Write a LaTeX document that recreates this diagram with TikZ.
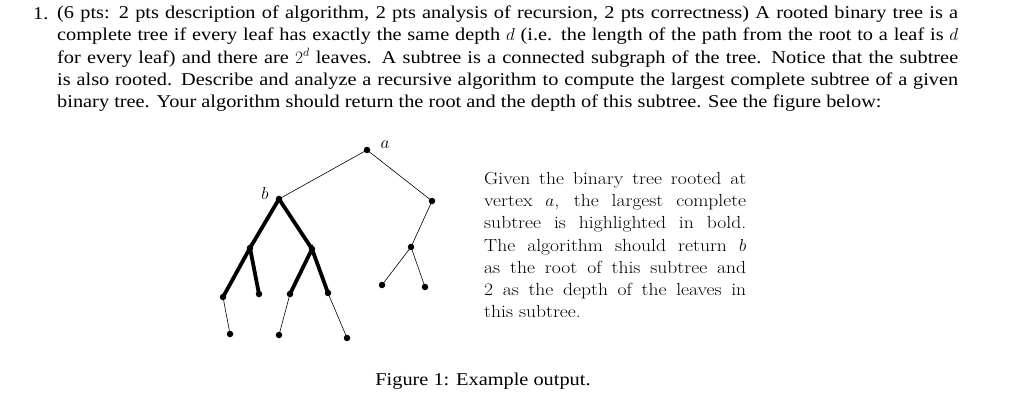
\documentclass[tikz,border=0pt]{standalone}
\usepackage{fontspec}
\setmainfont[FakeStretch=1.13]{Liberation Serif}
\newfontfamily\lmfont[FakeStretch=1.12]{Latin Modern Roman}
\begin{document}
\begin{tikzpicture}[x=1pt,y=-1pt,
  dot/.style={circle,fill=black,inner sep=0pt,minimum size=6.5pt},
  thin/.style={line width=0.6pt},
  bold/.style={line width=3.8pt}]
\useasboundingbox (0,0) rectangle (1024,406);
\node[anchor=base west,inner sep=0pt,font=\fontsize{18}{22.4}\selectfont] (num) at (33,20) {1.};
\node[anchor=north west,inner sep=0pt,text width=901pt,align=justify,font=\fontsize{18}{22.4}\selectfont] (para) at (57,5.5) {%
(6 pts: 2 pts description of algorithm, 2 pts analysis of recursion, 2 pts correctness) A rooted binary tree is a\linebreak
complete tree if every leaf has exactly the same depth $d$ (i.e. the length of the path from the root to a leaf is $d$\linebreak
for every leaf) and there are $2^d$ leaves. A subtree is a connected subgraph of the tree. Notice that the subtree\linebreak
is also rooted. Describe and analyze a recursive algorithm to compute the largest complete subtree of a given\linebreak
binary tree. Your algorithm should return the root and the depth of this subtree. See the figure below:};
\node[dot] (a) at (367,150) {};
\node[dot] (b) at (279,199) {};
\node[dot] (r1) at (432,201) {};
\node[dot] (r2) at (411,247) {};
\node[dot] (r3) at (382,285) {};
\node[dot] (r4) at (425,287) {};
\node[dot] (l) at (250,248) {};
\node[dot] (r) at (312,249) {};
\node[dot] (ll) at (223,297) {};
\node[dot] (lr) at (259,294) {};
\node[dot] (rl) at (290,294) {};
\node[dot] (rr) at (328,293) {};
\node[dot] (lll) at (230,334) {};
\node[dot] (rll) at (279,335) {};
\node[dot] (rrl) at (347,338) {};
\node[font=\lmfont\fontsize{16}{18}\selectfont] (la) at (385,145) {$a$};
\node[font=\lmfont\fontsize{16}{18}\selectfont] (lb) at (265,193) {$b$};
\draw[thin] (a.center)--(b.center) (a.center)--(r1.center)--(r2.center)--(r3.center) (r2.center)--(r4.center)
  (ll.center)--(lll.center) (rl.center)--(rll.center) (rr.center)--(rrl.center);
\draw[bold,line cap=round] (l.center)--(b.center)--(r.center) (ll.center)--(l.center)--(lr.center) (rl.center)--(r.center)--(rr.center);
\node[anchor=north west,inner sep=0pt,text width=262pt,align=justify,font=\lmfont\fontsize{17.5}{22.2}\selectfont] (side) at (484,172) {%
Given the binary tree rooted at\linebreak
vertex $a$, the largest complete\linebreak
subtree is highlighted in bold.\linebreak
The algorithm should return $b$\linebreak
as the root of this subtree and\linebreak
2 as the depth of the leaves in\linebreak
this subtree.};
\node[anchor=base,inner sep=0pt,font=\fontsize{18}{22}\selectfont] (cap) at (483,385) {Figure 1: Example output.};
\end{tikzpicture}
\end{document}
